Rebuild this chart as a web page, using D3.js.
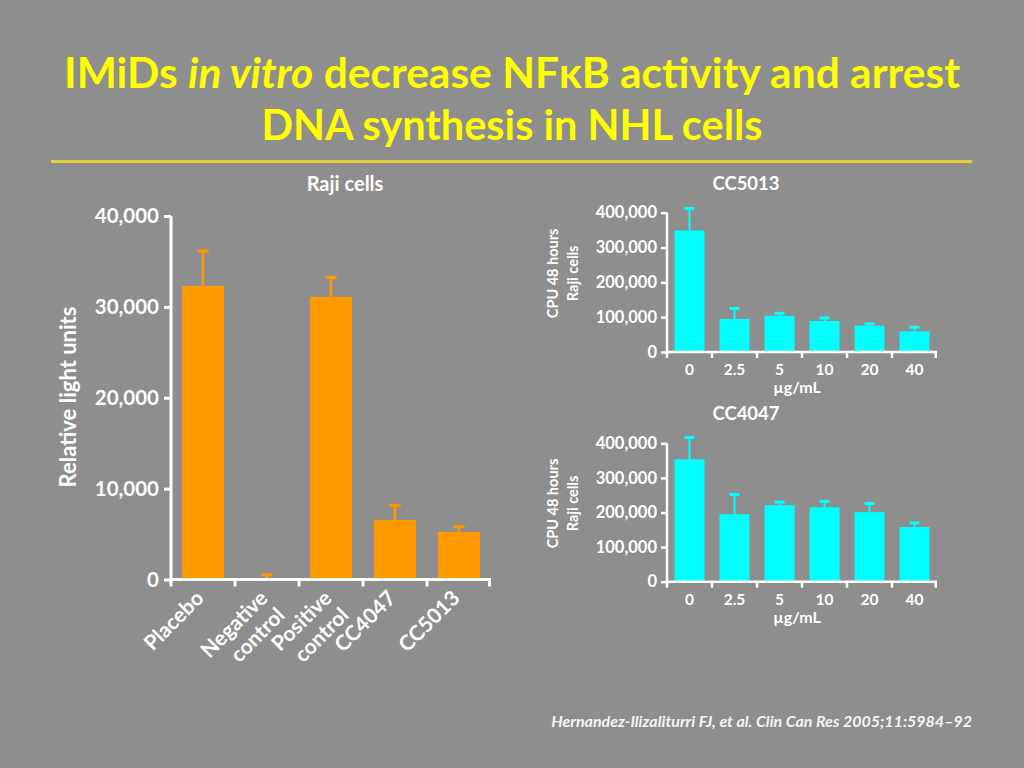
<!DOCTYPE html>
<html>
<head>
<meta charset="utf-8">
<script src="https://cdn.jsdelivr.net/npm/d3@7"></script>
<style>
  html, body { margin: 0; padding: 0; background: #8e8e8e; }
  svg { display: block; font-family: Lato, "Open Sans", sans-serif; }
</style>
</head>
<body>
<div id="slide"></div>
<script>
// Raji cells, NFkB reporter (relative light units)
var rajiCategories = [["Placebo"], ["Negative", "control"], ["Positive", "control"], ["CC4047"], ["CC5013"]];
var rajiMeans = [32300, 0, 31100, 6550, 5230];
var rajiErrors = [3850, 500, 2150, 1600, 570];
var rajiTicks = [0, 10000, 20000, 30000, 40000];

// DNA synthesis, CPU 48 hours
var doses = ["0", "2.5", "5", "10", "20", "40"];
var cc5013Means = [349000, 94700, 104000, 89000, 75500, 59300];
var cc5013Errors = [63000, 30300, 7000, 8600, 5500, 11700];
var cc4047Means = [354000, 195000, 221000, 215000, 201000, 158000];
var cc4047Errors = [63000, 57000, 9000, 17000, 25000, 12000];
var cpuTicks = [0, 100000, 200000, 300000, 400000];

var width = 1024, height = 768;
var fmt = d3.format(",");

var svg = d3.select("#slide")
  .append("svg")
    .attr("width", width)
    .attr("height", height);

svg.append("rect")
  .attr("width", width)
  .attr("height", height)
  .attr("fill", "#8e8e8e");

// title
var title = svg.append("g")
  .attr("fill", "#ffff00")
  .attr("font-weight", "bold")
  .attr("text-anchor", "middle");

var t1 = title.append("text")
  .attr("x", 512)
  .attr("y", 88)
  .attr("font-size", 42.5);
t1.append("tspan").text("IMiDs ");
t1.append("tspan").attr("font-style", "italic").text("in vitro");
t1.append("tspan").text(" decrease NFκB activity and arrest");

title.append("text")
  .attr("x", 512)
  .attr("y", 140)
  .attr("font-size", 41.5)
  .text("DNA synthesis in NHL cells");

svg.append("line")
  .attr("x1", 51).attr("x2", 972)
  .attr("y1", 161.5).attr("y2", 161.5)
  .attr("stroke", "#e2d03c")
  .attr("stroke-width", 3);

// draws bars + upper error bars in one chart
function drawBars(g, x, y, means, errors, color, capW, stemW) {
  g.selectAll("rect.bar")
    .data(means)
    .enter()
    .append("rect")
      .attr("class", "bar")
      .attr("x", function(d, i) { return x(i); })
      .attr("width", x.bandwidth())
      .attr("y", function(d) { return y(d); })
      .attr("height", function(d) { return y(0) - y(d); })
      .attr("fill", color);

  var err = g.selectAll("g.err")
    .data(means)
    .enter()
    .append("g")
      .attr("class", "err")
      .attr("stroke", color);

  err.append("line")
    .attr("x1", function(d, i) { return x(i) + x.bandwidth() / 2; })
    .attr("x2", function(d, i) { return x(i) + x.bandwidth() / 2; })
    .attr("y1", function(d) { return y(d); })
    .attr("y2", function(d, i) { return y(d + errors[i]); })
    .attr("stroke-width", stemW);

  err.append("line")
    .attr("x1", function(d, i) { return x(i) + x.bandwidth() / 2 - capW / 2; })
    .attr("x2", function(d, i) { return x(i) + x.bandwidth() / 2 + capW / 2; })
    .attr("y1", function(d, i) { return y(d + errors[i]); })
    .attr("y2", function(d, i) { return y(d + errors[i]); })
    .attr("stroke-width", 3);
}

// axes: y with d3.axisLeft, x as a line with ticks between the bands
function drawAxes(g, x, y, ticks, n, opts) {
  var yAxis = g.append("g")
    .attr("transform", "translate(" + x.range()[0] + ",0)")
    .call(d3.axisLeft(y)
      .tickValues(ticks)
      .tickFormat(fmt)
      .tickSize(opts.tick)
      .tickSizeOuter(0)
      .tickPadding(opts.pad));

  yAxis.select(".domain")
    .attr("stroke", "#fff")
    .attr("stroke-width", opts.sw)
    .attr("d", "M0," + (y(0) + opts.sw / 2) + "V" + y(ticks[ticks.length - 1]));
  yAxis.selectAll(".tick line")
    .attr("stroke", "#fff")
    .attr("stroke-width", opts.sw);
  yAxis.selectAll(".tick text")
    .attr("fill", "#fff")
    .attr("font-family", "Lato, sans-serif")
    .attr("font-weight", "bold")
    .attr("font-size", opts.fs);

  var xr = x.range();
  g.append("line")
    .attr("x1", xr[0] - opts.sw / 2).attr("x2", xr[1])
    .attr("y1", y(0)).attr("y2", y(0))
    .attr("stroke", "#fff")
    .attr("stroke-width", opts.sw);

  g.selectAll("line.xtick")
    .data(d3.range(n + 1))
    .enter()
    .append("line")
      .attr("class", "xtick")
      .attr("x1", function(i) { return Math.min(xr[0] + i * x.step(), xr[1] - opts.sw / 2); })
      .attr("x2", function(i) { return Math.min(xr[0] + i * x.step(), xr[1] - opts.sw / 2); })
      .attr("y1", y(0))
      .attr("y2", y(0) + opts.tick)
      .attr("stroke", "#fff")
      .attr("stroke-width", opts.sw);
}

// ---------- left chart: Raji cells ----------
var left = svg.append("g");

var xL = d3.scaleBand()
  .domain(d3.range(rajiMeans.length))
  .range([171, 491])
  .paddingInner(0.34)
  .paddingOuter(0.17);

var yL = d3.scaleLinear()
  .domain([0, 40000])
  .range([579.5, 216]);

drawBars(left, xL, yL, rajiMeans, rajiErrors, "#ff9900", 11, 2.5);
drawAxes(left, xL, yL, rajiTicks, rajiMeans.length, {tick: 7, pad: 5, sw: 3, fs: 20.5});

left.append("text")
  .attr("x", 345)
  .attr("y", 191)
  .attr("text-anchor", "middle")
  .attr("fill", "#fff")
  .attr("font-weight", "bold")
  .attr("font-size", 20)
  .text("Raji cells");

left.append("text")
  .attr("transform", "translate(76,397) rotate(-90)")
  .attr("text-anchor", "middle")
  .attr("fill", "#fff")
  .attr("font-weight", "bold")
  .attr("font-size", 22)
  .text("Relative light units");

var catLabels = left.selectAll("g.cat")
  .data(rajiCategories)
  .enter()
  .append("g")
    .attr("class", "cat")
    .attr("transform", function(d, i) {
      return "translate(" + (xL(i) + xL.bandwidth() / 2 + 2) + "," + (yL(0) + 20) + ") rotate(-45)";
    });

catLabels.append("text")
  .attr("text-anchor", "end")
  .attr("fill", "#fff")
  .attr("font-weight", "bold")
  .attr("font-size", 21)
  .selectAll("tspan")
  .data(function(d) { return d; })
  .enter()
  .append("tspan")
    .attr("x", 0)
    .attr("dy", function(d, i) { return i === 0 ? 0 : "1.15em"; })
    .text(function(d) { return d; });

// ---------- right charts: CPU ----------
function smallChart(name, means, errors, y0, yTop) {
  var g = svg.append("g");

  var x = d3.scaleBand()
    .domain(d3.range(doses.length))
    .range([667, 937])
    .paddingInner(0.333)
    .paddingOuter(0.1665);

  var y = d3.scaleLinear()
    .domain([0, 400000])
    .range([y0, yTop]);

  drawBars(g, x, y, means, errors, "#00ffff", 10, 2);
  drawAxes(g, x, y, cpuTicks, doses.length, {tick: 6, pad: 4, sw: 2.5, fs: 16.5});

  g.selectAll("text.dose")
    .data(doses)
    .enter()
    .append("text")
      .attr("class", "dose")
      .attr("x", function(d, i) { return x(i) + x.bandwidth() / 2; })
      .attr("y", y0 + 23)
      .attr("text-anchor", "middle")
      .attr("fill", "#fff")
      .attr("font-weight", "bold")
      .attr("font-size", 15.5)
      .text(function(d) { return d; });

  g.append("text")
    .attr("x", 797)
    .attr("y", y0 + 41)
    .attr("text-anchor", "middle")
    .attr("fill", "#fff")
    .attr("font-weight", "bold")
    .attr("font-size", 16)
    .text("µg/mL");

  g.append("text")
    .attr("x", 746)
    .attr("y", yTop - 23)
    .attr("text-anchor", "middle")
    .attr("fill", "#fff")
    .attr("font-weight", "bold")
    .attr("font-size", 18.5)
    .text(name);

  var cy = (y0 + yTop) / 2 - 9;
  var lab = g.append("text")
    .attr("transform", "translate(558," + cy + ") rotate(-90)")
    .attr("text-anchor", "middle")
    .attr("fill", "#fff")
    .attr("font-weight", "bold")
    .attr("font-size", 14.5);
  lab.append("tspan").attr("x", 0).attr("dy", 0).text("CPU 48 hours");
  lab.append("tspan").attr("x", 0).attr("dy", "1.35em").text("Raji cells");
}

smallChart("CC5013", cc5013Means, cc5013Errors, 352, 212.7);
smallChart("CC4047", cc4047Means, cc4047Errors, 581.7, 443.3);

// citation
svg.append("text")
  .attr("x", 972)
  .attr("y", 727)
  .attr("text-anchor", "end")
  .attr("fill", "#f4f4f4")
  .attr("font-style", "italic")
  .attr("font-weight", "bold")
  .attr("font-size", 16)
  .text("Hernandez-Ilizaliturri FJ, et al. Clin Can Res 2005;11:5984–92");
</script>
</body>
</html>
